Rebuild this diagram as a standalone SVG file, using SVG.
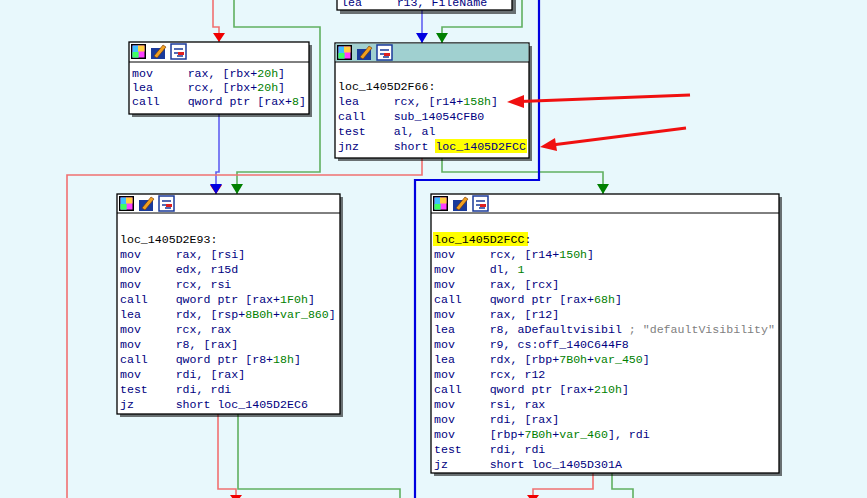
<svg xmlns="http://www.w3.org/2000/svg" width="867" height="498" viewBox="0 0 867 498">
<style>
text{font-family:"Liberation Mono","DejaVu Sans Mono",monospace;font-size:11.6px;fill:#000080;white-space:pre}
.n{fill:#008000}.c{fill:#808080}.k{fill:#000000}
.box{fill:#fff;stroke:#000;stroke-width:1.3}
.sh{fill:#000;opacity:0.55}
.e{fill:none;stroke-width:1.6}
.r{stroke:#f07070}.g{stroke:#60b060}.b{stroke:#6060f0}.bb{stroke:#0000e0;stroke-width:2.2}
.hl{fill:#ffff00}
</style>
<defs>
<marker id="ar" markerWidth="10" markerHeight="10" refX="5" refY="8" orient="auto" markerUnits="userSpaceOnUse"><path d="M0,0 L10,0 L5,9Z" fill="#f00000" transform="rotate(-90 5 5)"/></marker>
<g id="icons">
<rect x="0" y="0" width="15" height="15" fill="#000"/><rect x="1.5" y="1.5" width="12" height="12" fill="#ff40ff"/><rect x="1.5" y="1.5" width="6" height="12" fill="#40c0ff"/><rect x="7" y="1.5" width="6.5" height="6" fill="#ffd040"/><rect x="1.5" y="8" width="6" height="5.5" fill="#40ff60"/>
<rect x="20" y="4" width="14" height="11" fill="#1a3a9a"/><path d="M23,12 L32,1 L35,3 L26,14Z" fill="#f0a020" stroke="#703000" stroke-width="0.6"/>
<rect x="40" y="0" width="15" height="15" fill="#fff" stroke="#1a3a9a" stroke-width="1.5"/><path d="M43,5 H52 M43,9 H52 M46,12 H52" stroke="#1a3a9a" stroke-width="1.5"/><rect x="47" y="8" width="6" height="3" fill="#e02020"/>
</g>
</defs>
<rect width="867" height="498" fill="#e8f8fc"/>
<g id="edges">
<path class="e r" d="M213,0 V27 H219 V42"/>
<path class="e g" d="M234,0 V27 H320 V172 H237 V194"/>
<path class="e b" d="M219,114 V172 H216 V194"/>
<path class="e b" d="M422,10 V27 V43"/>
<path class="e g" d="M522,0 V27 H442 V43"/>
<path class="e r" d="M422,158 V175 H67 V498"/>
<path class="e g" d="M442,158 V172 H603 V194"/>
<path class="e bb" d="M539,0 V180 H415 V498"/>
<path class="e r" d="M218,414 V489 H236 V498"/>
<path class="e g" d="M238,414 V489 H400 V498"/>
<path class="e r" d="M593,473 V489 H533 V498"/>
<path class="e g" d="M612,473 V489 H633 V498"/>
<g fill="#f00000"><path d="M213,33 H225 L219,42Z"/><path d="M210,185 H222 L216,194Z"/><path d="M230,495 H242 L236,503Z"/><path d="M527,495 H539 L533,503Z"/></g>
<g fill="#0000e0"><path d="M416,33 H428 L422,43Z"/></g>
<g fill="#008000"><path d="M436,33 H448 L442,43Z"/><path d="M231,184 H243 L237,194Z"/><path d="M597,184 H609 L603,194Z"/></g>
<g fill="#0000e0"><path d="M210,184 H222 L216,194Z"/></g>
</g>
<g id="top">
<rect class="sh" x="340" y="-5" width="176" height="19"/>
<rect class="box" x="337" y="-8" width="175" height="18"/>
<text x="341" y="6">lea     r13, FileName</text>
</g>
<g id="nodeA">
<rect class="sh" x="132" y="45" width="180" height="72"/>
<rect class="box" x="129" y="42" width="180" height="72"/>
<line x1="129" y1="62" x2="309" y2="62" stroke="#000"/>
<use href="#icons" x="131" y="44"/>
<text x="132" y="77">mov     rax, [rbx+<tspan class="n">20h</tspan>]</text>
<text x="132" y="91">lea     rcx, [rbx+<tspan class="n">20h</tspan>]</text>
<text x="132" y="105">call    qword ptr [rax+<tspan class="n">8</tspan>]</text>
</g>
<g id="nodeB">
<rect class="sh" x="338" y="46" width="194" height="115"/>
<rect class="box" x="335" y="43" width="194" height="115"/>
<rect x="335.6" y="43.6" width="192.8" height="18" fill="#a0d0d0"/>
<line x1="335" y1="62" x2="529" y2="62" stroke="#000"/>
<use href="#icons" x="337" y="45"/>
<text class="k" x="338" y="90">loc_1405D2F66:</text>
<text x="338" y="105">lea     rcx, [r14+<tspan class="n">158h</tspan>]</text>
<text x="338" y="120">call    sub_14054CFB0</text>
<text x="338" y="135">test    al, al</text>
<rect class="hl" x="435" y="139" width="92" height="14"/>
<text x="338" y="150">jnz     short loc_1405D2FCC</text>
</g>
<g id="nodeC">
<rect class="sh" x="120" y="197" width="223" height="220"/>
<rect class="box" x="117" y="194" width="223" height="220"/>
<line x1="117" y1="213" x2="340" y2="213" stroke="#000"/>
<use href="#icons" x="119" y="196"/>
<text class="k" x="120" y="243">loc_1405D2E93:</text>
<text x="120" y="258">mov     rax, [rsi]</text>
<text x="120" y="273">mov     edx, r15d</text>
<text x="120" y="288">mov     rcx, rsi</text>
<text x="120" y="303">call    qword ptr [rax+<tspan class="n">1F0h</tspan>]</text>
<text x="120" y="318">lea     rdx, [rsp+<tspan class="n">8B0h</tspan>+<tspan class="n">var_860</tspan>]</text>
<text x="120" y="333">mov     rcx, rax</text>
<text x="120" y="348">mov     r8, [rax]</text>
<text x="120" y="363">call    qword ptr [r8+<tspan class="n">18h</tspan>]</text>
<text x="120" y="378">mov     rdi, [rax]</text>
<text x="120" y="393">test    rdi, rdi</text>
<text x="120" y="408">jz      short loc_1405D2EC6</text>
</g>
<g id="nodeD">
<rect class="sh" x="434" y="197" width="348" height="279"/>
<rect class="box" x="431" y="194" width="348" height="279"/>
<line x1="431" y1="213" x2="779" y2="213" stroke="#000"/>
<use href="#icons" x="433" y="196"/>
<rect class="hl" x="433" y="232" width="95" height="14"/>
<text class="k" x="434" y="243">loc_1405D2FCC:</text>
<text x="434" y="258">mov     rcx, [r14+<tspan class="n">150h</tspan>]</text>
<text x="434" y="273">mov     dl, <tspan class="n">1</tspan></text>
<text x="434" y="288">mov     rax, [rcx]</text>
<text x="434" y="303">call    qword ptr [rax+<tspan class="n">68h</tspan>]</text>
<text x="434" y="318">mov     rax, [r12]</text>
<text x="434" y="333">lea     r8, aDefaultvisibil <tspan class="c">; "defaultVisibility"</tspan></text>
<text x="434" y="348">mov     r9, cs:off_140C644F8</text>
<text x="434" y="363">lea     rdx, [rbp+<tspan class="n">7B0h</tspan>+<tspan class="n">var_450</tspan>]</text>
<text x="434" y="378">mov     rcx, r12</text>
<text x="434" y="393">call    qword ptr [rax+<tspan class="n">210h</tspan>]</text>
<text x="434" y="408">mov     rsi, rax</text>
<text x="434" y="423">mov     rdi, [rax]</text>
<text x="434" y="438">mov     [rbp+<tspan class="n">7B0h</tspan>+<tspan class="n">var_460</tspan>], rdi</text>
<text x="434" y="453">test    rdi, rdi</text>
<text x="434" y="468">jz      short loc_1405D301A</text>
</g>
<g id="annotations" fill="#f01010" stroke="#f01010">
<line x1="690" y1="95" x2="520" y2="101.5" stroke-width="3"/>
<path d="M507,102 L524,95 L524,108Z" stroke="none"/>
<line x1="686" y1="128" x2="552" y2="145" stroke-width="3"/>
<path d="M540,147 L555,138 L557,151Z" stroke="none"/>
</g>
</svg>
